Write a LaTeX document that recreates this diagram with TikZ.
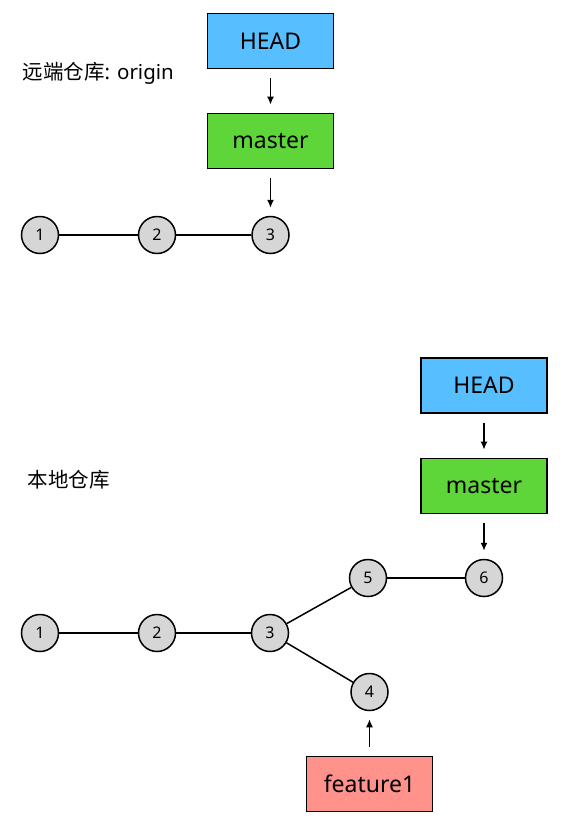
\documentclass[tikz,border=0pt]{standalone}
\usepackage{fontspec}
\setmainfont{Noto Sans}
\newfontfamily\cjk{Noto Sans CJK SC}
\usetikzlibrary{arrows.meta,positioning}

\definecolor{headblue}{RGB}{87,191,255}
\definecolor{mastergreen}{RGB}{94,214,58}
\definecolor{featurered}{RGB}{255,146,138}
\definecolor{commitgray}{RGB}{214,214,214}

\tikzset{
  commit/.style={circle,draw,line width=1.5pt,fill=commitgray,minimum size=37pt,inner sep=0pt,font=\fontsize{16}{18}\selectfont},
  ref/.style={draw,line width=1.7pt,minimum width=126pt,minimum height=55pt,inner sep=0pt,font=\fontsize{23}{26}\selectfont},
  pointer/.style={-{Latex[length=8pt,width=7pt]},line width=1.5pt,shorten >=8pt,shorten <=9pt},
  edge/.style={line width=1.5pt}
}

\begin{document}
\begin{tikzpicture}[x=1pt,y=-1pt]
\useasboundingbox (0,0) rectangle (567,825);

% remote repository
\node[anchor=west,font=\fontsize{20.5}{24}\selectfont] (rlabel) at (19,73) {{\cjk 远端仓库}: origin};
\node[ref,fill=headblue] (rhead) at (270.5,41) {HEAD};
\node[ref,fill=mastergreen] (rmaster) at (270.5,141) {master};
\foreach \pos/\name/\disp in {{(40,235)/r1/1}, {(157,235)/r2/2}, {(270.5,235)/r3/3}}
\node[commit] (\name) at \pos {\disp};

\foreach \source/ \dest in {r1/r2, r2/r3}
\draw[edge] (\source) -- (\dest);
\draw[pointer] (rhead) -- (rmaster);
\draw[pointer] (rmaster) -- (r3);

% local repository
\node[anchor=west,font=\fontsize{20.5}{24}\selectfont\cjk] (llabel) at (24,480) {本地仓库};
\node[ref,fill=headblue] (lhead) at (484,385.5) {HEAD};
\node[ref,fill=mastergreen] (lmaster) at (484,486) {master};
\node[ref,fill=featurered] (lfeature) at (369.5,784) {feature1};
\foreach \pos/\name/\disp in {{(40,633)/l1/1}, {(157,633)/l2/2}, {(270,633)/l3/3}, {(369.5,692)/l4/4}, {(368,578)/l5/5}, {(484,578)/l6/6}}
\node[commit] (\name) at \pos {\disp};

\foreach \source/ \dest in {l1/l2, l2/l3, l3/l5, l3/l4, l5/l6}
\draw[edge] (\source) -- (\dest);
\draw[pointer] (lhead) -- (lmaster);
\draw[pointer] (lmaster) -- (l6);
\draw[pointer] (lfeature) -- (l4);

\end{tikzpicture}
\end{document}
